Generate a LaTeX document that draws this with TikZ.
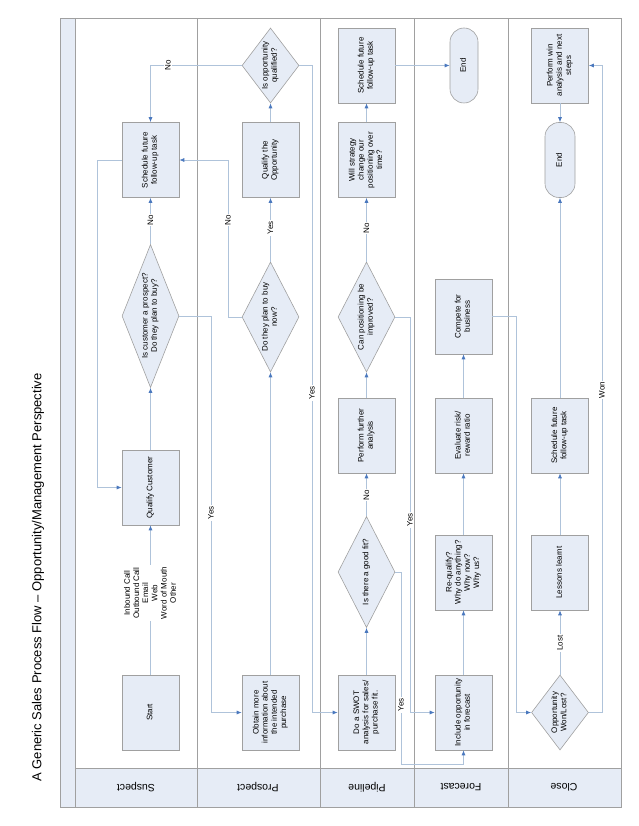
\documentclass[tikz,border=0pt]{standalone}
\usepackage{fontspec}
\setmainfont{Liberation Sans}
\usetikzlibrary{shapes.geometric,arrows.meta}
\definecolor{boxfill}{HTML}{E6ECF6}
\definecolor{edge}{HTML}{A0A0A0}
\definecolor{conn}{HTML}{AFC3DA}
\definecolor{tip}{HTML}{4A78BE}
\newcommand{\rt}[1]{\rotatebox{90}{\begin{tabular}{@{}c@{}}#1\end{tabular}}}
\tikzset{
 base/.style={draw=edge,fill=boxfill,inner sep=0pt,font=\fontsize{8}{9.2}\selectfont,line width=0.6pt},
 box/.style={base,rectangle,minimum width=57,minimum height=75},
 dia/.style={base,diamond,minimum width=57,minimum height=#1},
 term/.style={base,rectangle,rounded corners=14,minimum width=28,minimum height=75},
 conn/.style={draw=conn,line width=0.7pt},
 arr/.style={conn,-{Latex[length=5pt,width=4pt,color=tip]}},
 lbl/.style={fill=white,inner sep=1pt,rotate=90,font=\fontsize{8}{9.2}\selectfont},
 lane/.style={rotate=180,font=\fontsize{10.5}{12}\selectfont},
 dtext/.style={label={[font=\fontsize{8}{9.2}\selectfont]center:{\rt{#1}}}},
}
\begin{document}
\begin{tikzpicture}[x=1pt,y=-1pt]
\useasboundingbox (0,0) rectangle (638,826);
% frame
\fill[boxfill] (60,18) rectangle (75,807);
\fill[boxfill] (75,768) rectangle (621,807);
\draw[edge,line width=0.6pt] (60,18) rectangle (621,807);
\draw[edge,line width=0.6pt] (75,18) -- (75,807) (75,768) -- (621,768);
\foreach \x in {197,320,414,508} \draw[edge,line width=0.6pt] (\x,18) -- (\x,807);
\node[rotate=90,anchor=west,font=\fontsize{13}{15}\selectfont] (title) at (38,785) {A Generic Sales Process Flow – Opportunity/Management Perspective};
\node[lane] (l1) at (136,787) {Suspect};
\node[lane] (l2) at (258,787) {Prospect};
\node[lane] (l3) at (367,787) {Pipeline};
\node[lane] (l4) at (461,787) {Forecast};
\node[lane] (l5) at (564,787) {Close};
% nodes
\node[box] (start) at (150.5,712.5) {\rt{Start}};
\node[box] (qual) at (150.5,487.5) {\rt{Qualify Customer}};
\node[dia=143,dtext={Is customer a prospect?\\Do they plan to buy?}] (isprosp) at (150.5,316) {};
\node[box] (sched1) at (150.5,160) {\rt{Schedule future\\follow-up task}};
\node[box] (obtain) at (270.5,712.5) {\rt{Obtain more\\information about\\the intended\\purchase}};
\node[dia=110,dtext={Do they plan to buy\\now?}] (plan) at (270.5,317) {};
\node[box] (qualopp) at (270.5,160) {\rt{Qualify the\\Opportunity}};
\node[dia=75,dtext={Is opportunity\\qualified?}] (isqual) at (270.5,65.5) {};
\node[box] (swot) at (366.5,712.5) {\rt{Do a SWOT\\analysis for sales/\\purchase fit.}};
\node[dia=111,dtext={Is there a good fit?}] (goodfit) at (366.5,572) {};
\node[box] (further) at (366.5,435.5) {\rt{Perform further\\analysis}};
\node[dia=110,dtext={Can positioning be\\improved?}] (canpos) at (366.5,317) {};
\node[box] (will) at (366.5,160) {\rt{Will strategy\\change our\\positioning over\\time?}};
\node[box] (sched2) at (366.5,65.5) {\rt{Schedule future\\follow-up task}};
\node[box] (include) at (463.5,712.5) {\rt{Include opportunity\\in forecast}};
\node[box] (requal) at (463.5,572.5) {\rt{Re-qualify?\\Why do anything?\\Why now?\\Why us?}};
\node[box] (evalr) at (463.5,435.5) {\rt{Evaluate risk/\\reward ratio}};
\node[box] (compete) at (463.5,316.5) {\rt{Compete for\\business}};
\node[term] (end1) at (464,65.5) {\rt{End}};
\node[dia=75,dtext={Opportunity\\Won/Lost?}] (wonlost) at (560,712.5) {};
\node[box] (lessons) at (560,572.5) {\rt{Lessons learnt}};
\node[box] (sched3) at (560,435.5) {\rt{Schedule future\\follow-up task}};
\node[term,minimum width=30] (end2) at (560,160) {\rt{End}};
\node[box] (perfwin) at (560,65.5) {\rt{Perform win\\analysis and next\\steps}};
% connectors
\draw[arr] (start.north) -- (qual.south);
\node[fill=white,inner sep=2pt,rotate=90,font=\fontsize{8}{9.2}\selectfont] (src) at (151,593) {\begin{tabular}{@{}c@{}}Inbound Call\\Outbound Call\\Email\\Web\\Word of Mouth\\Other\end{tabular}};
\draw[arr] (qual.north) -- (isprosp.south);
\draw[arr] (isprosp.north) -- (sched1.south);
\draw[arr] (sched1.west) -- ++(-24,0) |- (qual.west);
\draw[arr] (isprosp.east) -- (211,316) |- (obtain.west);
\draw[arr] (obtain.north) -- (plan.south);
\draw[arr] (plan.north) -- (qualopp.south);
\draw[arr] (plan.west) -- (228,317) |- (sched1.east);
\draw[arr] (qualopp.north) -- (isqual.south);
\draw[arr] (isqual.west) -| (sched1.north);
\draw[arr] (isqual.east) -- (312,65.5) |- (swot.west);
\draw[arr] (swot.north) -- (goodfit.south);
\draw[arr] (goodfit.north) -- (further.south);
\draw[arr] (further.north) -- (canpos.south);
\draw[arr] (canpos.north) -- (will.south);
\draw[arr] (will.north) -- (sched2.south);
\draw[arr] (sched2.east) -- (end1.west);
\draw[arr] (goodfit.east) -- (401,572) -- (401,764) -| (include.south);
\draw[arr] (canpos.east) -- (410,317) |- (include.west);
\draw[arr] (include.north) -- (requal.south);
\draw[arr] (requal.north) -- (evalr.south);
\draw[arr] (evalr.north) -- (compete.south);
\draw[arr] (compete.east) -- (516,316.5) |- (wonlost.west);
\draw[arr] (wonlost.north) -- (lessons.south);
\draw[arr] (lessons.north) -- (sched3.south);
\draw[arr] (sched3.north) -- (end2.south);
\draw[arr] (perfwin.south) -- (end2.north);
\draw[arr] (wonlost.east) -- (602,712.5) |- (perfwin.east);
% labels
\node[lbl] (n1) at (150.5,220) {No};
\node[lbl] (y1) at (211,513) {Yes};
\node[lbl] (y2) at (270.5,228) {Yes};
\node[lbl] (n2) at (228,220) {No};
\node[lbl] (n3) at (168,65.5) {No};
\node[lbl] (y3) at (312,393) {Yes};
\node[lbl] (n4) at (366.5,495) {No};
\node[lbl] (n5) at (366.5,228) {No};
\node[lbl] (y4) at (401,705) {Yes};
\node[lbl] (y5) at (410,520) {Yes};
\node[lbl] (lost) at (560,643) {Lost};
\node[lbl] (won) at (602,390) {Won};
\end{tikzpicture}
\end{document}
